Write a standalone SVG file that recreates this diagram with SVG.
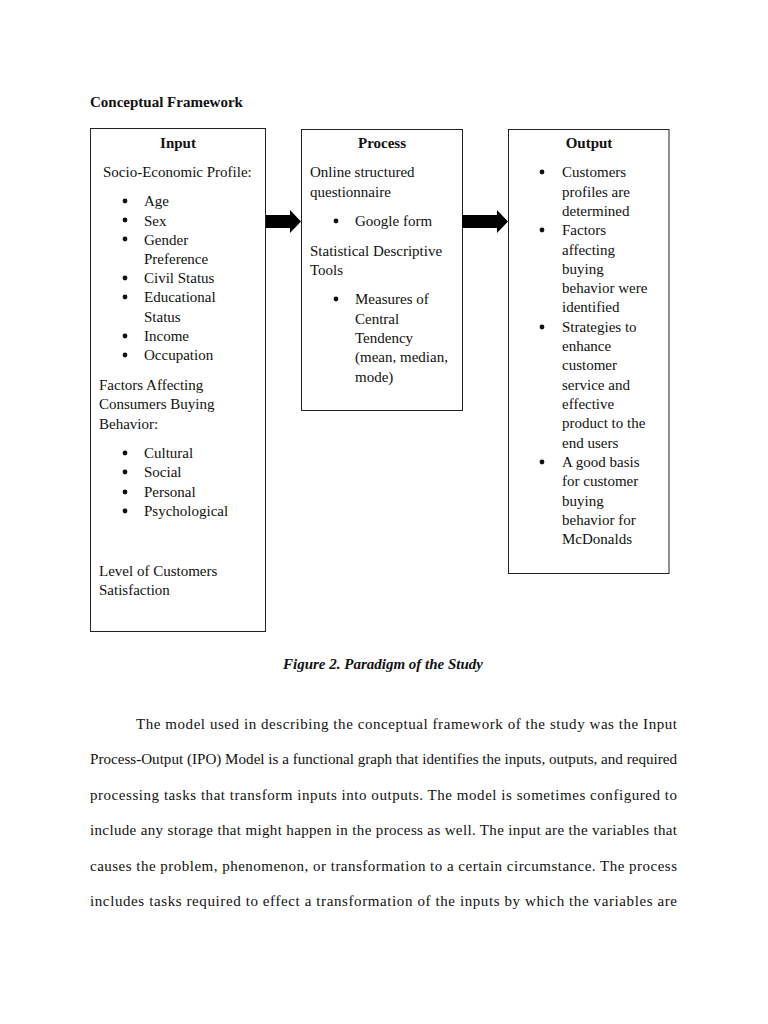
<svg xmlns="http://www.w3.org/2000/svg" width="768" height="1024" viewBox="0 0 768 1024">
<style>
text{font-family:"Liberation Serif","Times New Roman",serif;font-size:15px;fill:#111}
.b{font-weight:bold}
.c{text-anchor:middle}
.box{fill:#fff;stroke:#222;stroke-width:1}
.dot{fill:#111}
.cap{font-weight:bold;font-style:italic}
</style>
<rect width="768" height="1024" fill="#fff"/>
<text class="b" x="90" y="107">Conceptual Framework</text>

<g id="input">
<rect class="box" x="90.5" y="128.5" width="175" height="503"/>
<text class="b c" x="178" y="148">Input</text>
<text x="103" y="177">Socio-Economic Profile:</text>
<g class="dot"><circle cx="125" cy="201" r="2.4"/><circle cx="125" cy="220" r="2.4"/><circle cx="125" cy="239" r="2.4"/><circle cx="125" cy="278" r="2.4"/><circle cx="125" cy="297" r="2.4"/><circle cx="125" cy="336" r="2.4"/><circle cx="125" cy="355" r="2.4"/></g>
<text x="144" y="206">Age</text>
<text x="144" y="226">Sex</text>
<text x="144" y="245">Gender</text>
<text x="144" y="264">Preference</text>
<text x="144" y="283">Civil Status</text>
<text x="144" y="302">Educational</text>
<text x="144" y="322">Status</text>
<text x="144" y="341">Income</text>
<text x="144" y="360">Occupation</text>
<text x="99" y="390">Factors Affecting</text>
<text x="99" y="409">Consumers Buying</text>
<text x="99" y="429">Behavior:</text>
<g class="dot"><circle cx="125" cy="453" r="2.4"/><circle cx="125" cy="472" r="2.4"/><circle cx="125" cy="492" r="2.4"/><circle cx="125" cy="511" r="2.4"/></g>
<text x="144" y="458">Cultural</text>
<text x="144" y="477">Social</text>
<text x="144" y="497">Personal</text>
<text x="144" y="516">Psychological</text>
<text x="99" y="576">Level of Customers</text>
<text x="99" y="595">Satisfaction</text>
</g>

<g id="process">
<rect class="box" x="301.5" y="129.5" width="161" height="281"/>
<text class="b c" x="382" y="148">Process</text>
<text x="310" y="177">Online structured</text>
<text x="310" y="197">questionnaire</text>
<circle class="dot" cx="336" cy="221" r="2.4"/>
<text x="355" y="226">Google form</text>
<text x="310" y="256">Statistical Descriptive</text>
<text x="310" y="275">Tools</text>
<circle class="dot" cx="336" cy="299" r="2.4"/>
<text x="355" y="304">Measures of</text>
<text x="355" y="324">Central</text>
<text x="355" y="343">Tendency</text>
<text x="355" y="362">(mean, median,</text>
<text x="355" y="382">mode)</text>
</g>

<g id="output">
<rect class="box" x="508.5" y="129.5" width="160.5" height="444"/>
<text class="b c" x="589" y="148">Output</text>
<g class="dot"><circle cx="542" cy="172" r="2.4"/><circle cx="542" cy="230" r="2.4"/><circle cx="542" cy="327" r="2.4"/><circle cx="542" cy="462" r="2.4"/></g>
<text x="562" y="177">Customers</text>
<text x="562" y="197">profiles are</text>
<text x="562" y="216">determined</text>
<text x="562" y="235">Factors</text>
<text x="562" y="255">affecting</text>
<text x="562" y="274">buying</text>
<text x="562" y="293">behavior were</text>
<text x="562" y="312">identified</text>
<text x="562" y="332">Strategies to</text>
<text x="562" y="351">enhance</text>
<text x="562" y="370">customer</text>
<text x="562" y="390">service and</text>
<text x="562" y="409">effective</text>
<text x="562" y="428">product to the</text>
<text x="562" y="448">end users</text>
<text x="562" y="467">A good basis</text>
<text x="562" y="486">for customer</text>
<text x="562" y="506">buying</text>
<text x="562" y="525">behavior for</text>
<text x="562" y="544">McDonalds</text>
</g>

<g id="connectors" fill="#000">
<polygon points="266,215 290,215 290,210 301,221.5 290,233 290,228 266,228"/>
<polygon points="462,215 497,215 497,210 508,221.5 497,233 497,228 462,228"/>
</g>

<text class="cap c" x="383" y="669">Figure 2. Paradigm of the Study</text>

<g id="paragraph">
<text x="136" y="729" textLength="541" lengthAdjust="spacing">The model used in describing the conceptual framework of the study was the Input</text>
<text x="90" y="764" textLength="587" lengthAdjust="spacingAndGlyphs">Process-Output (IPO) Model is a functional graph that identifies the inputs, outputs, and required</text>
<text x="90" y="800" textLength="587" lengthAdjust="spacing">processing tasks that transform inputs into outputs. The model is sometimes configured to</text>
<text x="90" y="835" textLength="587" lengthAdjust="spacing">include any storage that might happen in the process as well. The input are the variables that</text>
<text x="90" y="871" textLength="587" lengthAdjust="spacing">causes the problem, phenomenon, or transformation to a certain circumstance. The process</text>
<text x="90" y="906" textLength="587" lengthAdjust="spacing">includes tasks required to effect a transformation of the inputs by which the variables are</text>
</g>
</svg>
